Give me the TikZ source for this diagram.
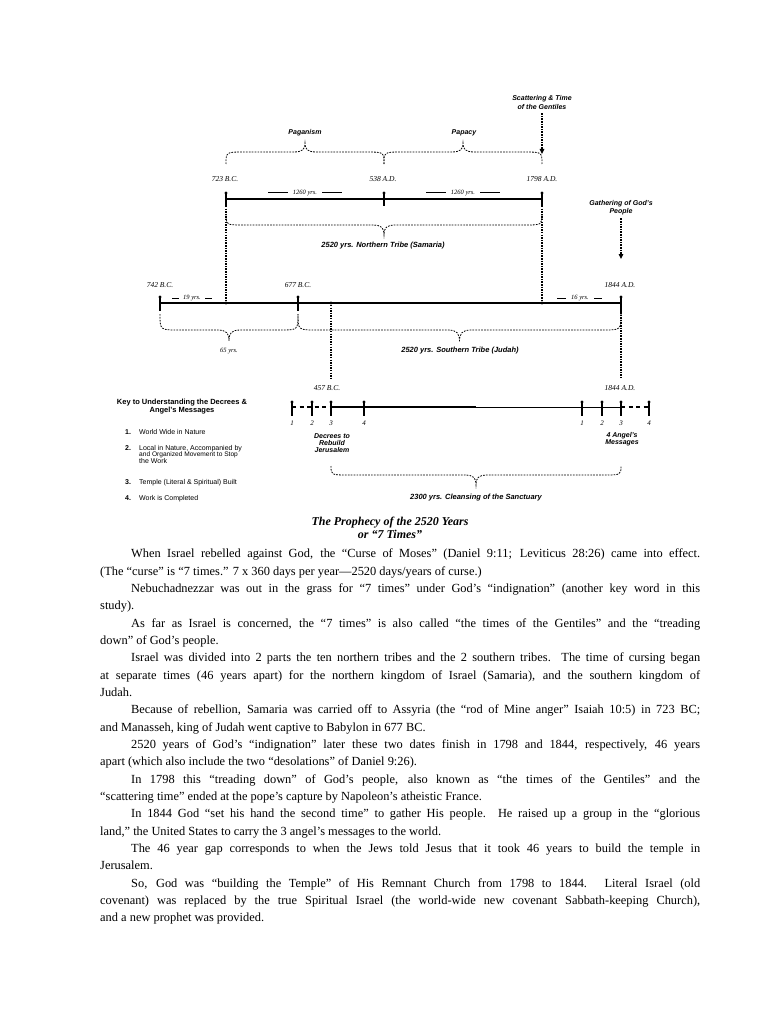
\documentclass[tikz,border=0pt]{standalone}
\usepackage{fontspec}
\setmainfont{Liberation Serif}
\setsansfont{Liberation Sans}
\usetikzlibrary{arrows.meta}
\newcommand\pinmark[4]{% name, x, ytop, ybottom
  \node[dotn] (#1) at (#2,#3) {};
  \coordinate (#1-b) at (#2,#4);
  \draw[stem] (#1.center) -- (#1-b);}
\newcommand\dbrace[6]{% name, x1, x2, yend, yflat, ycusp
  \coordinate (#1-l) at (#2,#4);
  \coordinate (#1-r) at (#3,#4);
  \coordinate (#1-m) at ({(#2+#3)/2},#6);
  \draw[brc] (#1-l) .. controls (#2,#5) .. ({#2+18},#5) -- ({(#2+#3)/2-12},#5)
    .. controls ({(#2+#3)/2-2},#5) and ({(#2+#3)/2},{#5+0.3*(#6-#5)}) .. (#1-m)
    .. controls ({(#2+#3)/2},{#5+0.3*(#6-#5)}) and ({(#2+#3)/2+2},#5) .. ({(#2+#3)/2+12},#5) -- ({#3-18},#5)
    .. controls (#3,#5) .. (#1-r);}
\begin{document}
\begin{tikzpicture}[x=1pt,y=-1pt,
  date/.style={font=\fontsize{7.5}{8}\selectfont\itshape, inner sep=0},
  yrs/.style={font=\fontsize{6.5}{7}\selectfont\itshape, inner sep=0},
  num/.style={font=\fontsize{7}{8}\selectfont\itshape, inner sep=0},
  lab/.style={font=\fontsize{7}{7.5}\selectfont\sffamily\bfseries\itshape, align=center, inner sep=0},
  blab/.style={font=\fontsize{7.5}{8}\selectfont\sffamily\bfseries\itshape, inner sep=0},
  keyhead/.style={font=\fontsize{7.5}{8.5}\selectfont\sffamily\bfseries, align=center, inner sep=0},
  keynum/.style={font=\fontsize{7}{8}\selectfont\sffamily\bfseries, inner sep=0, anchor=base west},
  keytxt/.style={font=\fontsize{7}{8}\selectfont\sffamily, inner sep=0, anchor=base west},
  brc/.style={dash pattern=on 1.7pt off 1.2pt, line width=0.8pt},
  vdot/.style={dash pattern=on 1.5pt off 1.1pt, line width=1.1pt},
  tline/.style={line width=1.2pt},
  tdash/.style={line width=1.2pt, dash pattern=on 4pt off 3.5pt},
  sdash/.style={line width=1pt},
  stem/.style={line width=1.5pt},
  dotn/.style={circle, fill, inner sep=0, minimum size=3.4pt},
  arr/.style={vdot, -{Triangle[length=5pt,width=4.5pt]}}
]
\useasboundingbox[fill=white] (0,0) rectangle (768,1024);

% ---------- top labels ----------
\node[lab, font=\fontsize{7}{9}\selectfont\sffamily\bfseries\itshape] (scat) at (542,103) {Scattering \& Time\\of the Gentiles};
\coordinate (scatend) at (542,154);
\draw[arr] (scat.south) ++(0,3) coordinate (scatstart) (scatstart) -- (scatend);
\node[lab] (pagan) at (305,133) {Paganism};
\node[lab] (papacy) at (464,133) {Papacy};
\dbrace{bpag}{226}{384}{164}{152}{143}
\dbrace{bpap}{384}{542}{164}{152}{143}

% ---------- timeline 1 ----------
\node[date] (d723) at (225,179) {723 B.C.};
\node[date] (d538) at (383,179) {538 A.D.};
\node[date] (d1798) at (542,179) {1798 A.D.};
\coordinate (L1a) at (226,199);
\coordinate (L1c) at (542,199);
\draw[tline] (L1a) -- (L1c);
\pinmark{p1a}{226}{193}{206}
\pinmark{p1b}{384}{193}{206}
\pinmark{p1c}{542}{193}{206}
\node[yrs] (y1260a) at (305,193) {1260 yrs.};
\node[yrs] (y1260b) at (463,193) {1260 yrs.};
\draw[sdash] (y1260a.west) ++(-5,0) coordinate (ya1) -- ++(-20,0);
\draw[sdash] (y1260a.east) ++(5,0) coordinate (ya2) -- ++(20,0);
\draw[sdash] (y1260b.west) ++(-5,0) coordinate (yb1) -- ++(-20,0);
\draw[sdash] (y1260b.east) ++(5,0) coordinate (yb2) -- ++(20,0);
\dbrace{bnorth}{226}{542}{214}{225}{235}
\node[blab] (north) at (383,246) {2520 yrs. Northern Tribe (Samaria)};

% gathering
\node[lab, font=\fontsize{7}{8}\selectfont\sffamily\bfseries\itshape] (gath) at (621,208) {Gathering of God's\\People};
\coordinate (gathend) at (621,259);
\draw[arr] (gath.south) ++(0,3) coordinate (gathstart) (gathstart) -- (gathend);

% ---------- timeline 2 ----------
\node[date] (d742) at (160,285) {742 B.C.};
\node[date] (d677) at (298,285) {677 B.C.};
\node[date] (d1844a) at (620,285) {1844 A.D.};
\coordinate (L2a) at (160,303);
\coordinate (L2b) at (621,303);
\draw[tline] (L2a) -- (L2b);
\pinmark{p2a}{160}{297}{311}
\pinmark{p2b}{298}{297}{311}
\pinmark{p2c}{621}{297}{312}
\node[dotn] (o2a) at (226,303) {};
\node[dotn] (o2b) at (331,303) {};
\node[dotn] (o2c) at (542,303) {};
\draw[vdot] (p1a-b) -- (o2a);
\draw[vdot] (p1c-b) -- (o2c);
\node[yrs] (y19) at (192,298) {19 yrs.};
\draw[sdash] (y19.west) ++(-4,0) coordinate (y19a) -- ++(-7,0);
\draw[sdash] (y19.east) ++(4,0) coordinate (y19b) -- ++(7,0);
\node[yrs] (y16) at (580,298) {16 yrs.};
\draw[sdash] (y16.west) ++(-5,0) coordinate (y16a) -- ++(-9,0);
\draw[sdash] (y16.east) ++(5,0) coordinate (y16b) -- ++(8,0);
\dbrace{b65}{160}{298}{314}{330}{341}
\node[yrs] (y65) at (229,351) {65 yrs.};
\dbrace{bjud}{298}{621}{314}{330}{342}
\node[blab] (judah) at (460,351) {2520 yrs. Southern Tribe (Judah)};

% ---------- timeline 3 ----------
\node[date] (d457) at (327,388) {457 B.C.};
\node[date] (d1844b) at (620,388) {1844 A.D.};
\pinmark{p3a}{292}{402}{416}
\pinmark{p3b}{312}{402}{416}
\pinmark{p3c}{331}{402}{416}
\pinmark{p3d}{364}{402}{416}
\pinmark{p3e}{582}{402}{416}
\pinmark{p3f}{602}{402}{416}
\pinmark{p3g}{621}{402}{416}
\pinmark{p3h}{649}{402}{416}
\coordinate (L3a) at (292,407);
\coordinate (L3c) at (331,407);
\coordinate (L3m) at (476,407);
\coordinate (L3g) at (621,407);
\coordinate (L3h) at (649,407);
\draw[tdash] (L3a) -- (L3c);
\draw[line width=1.4pt] (L3c) -- (L3m);
\draw[line width=1pt] (L3m) -- (L3g);
\draw[tdash] (L3g) -- (L3h);
\coordinate (v3c) at (331,378);
\coordinate (v3g) at (621,378);
\draw[vdot] (o2b) -- (v3c);
\draw[vdot] (p2c-b) -- (v3g);
\node[num] (n1a) at (292,423) {1};
\node[num] (n2a) at (312,423) {2};
\node[num] (n3a) at (331,423) {3};
\node[num] (n4a) at (364,423) {4};
\node[num] (n1b) at (582,423) {1};
\node[num] (n2b) at (602,423) {2};
\node[num] (n3b) at (621,423) {3};
\node[num] (n4b) at (649,423) {4};
\node[lab, font=\fontsize{7}{6.8}\selectfont\sffamily\bfseries\itshape] (decr) at (332,443) {Decrees to\\Rebuild\\Jerusalem};
\node[lab, font=\fontsize{7}{7}\selectfont\sffamily\bfseries\itshape] (angel) at (622,439.5) {4 Angel's\\Messages};
\dbrace{bsan}{331}{621}{466}{475}{485}
\node[blab] (sanct) at (476,498) {2300 yrs. Cleansing of the Sanctuary};

% ---------- key ----------
\node[keyhead] (keyh) at (182,406.5) {Key to Understanding the Decrees \&\\Angel's Messages};
\node[keynum] (k1n) at (125,434) {1.};
\node[keytxt] (k1) at (139,434) {World Wide in Nature};
\node[keynum] (k2n) at (125,450) {2.};
\node[keytxt] (k2a) at (139,450) {Local in Nature, Accompanied by};
\node[keytxt, font=\fontsize{6.6}{7}\selectfont\sffamily] (k2b) at (139,456.5) {and Organized Movement to Stop};
\node[keytxt] (k2c) at (139,463) {the Work};
\node[keynum] (k3n) at (125,484) {3.};
\node[keytxt] (k3) at (139,484) {Temple (Literal \& Spiritual) Built};
\node[keynum] (k4n) at (125,500) {4.};
\node[keytxt] (k4) at (139,500) {Work is Completed};

% ---------- title ----------
\node[font=\fontsize{12}{12.5}\selectfont\bfseries\itshape, align=center, inner sep=0] (title) at (390,528) {The Prophecy of the 2520 Years\\or “7 Times”};

% ---------- body ----------
\node[anchor=north west, inner sep=0, text width=600pt, align=justify,
      font=\fontsize{12.4}{17.33}\selectfont] (body) at (100,549) {%
\setlength{\parindent}{0pt}%
\hspace*{31pt}When Israel rebelled against God, the “Curse of Moses” (Daniel 9:11; Leviticus 28:26) came into effect.\linebreak (The “curse” is “7 times.” 7 x 360 days per year—2520 days/years of curse.)\par
\hspace*{31pt}Nebuchadnezzar was out in the grass for “7 times” under God’s “indignation” (another key word in this\linebreak study).\par
\hspace*{31pt}As far as Israel is concerned, the “7 times” is also called “the times of the Gentiles” and the “treading\linebreak down” of God’s people.\par
\hspace*{31pt}Israel was divided into 2 parts the ten northern tribes and the 2 southern tribes. The time of cursing began\linebreak at separate times (46 years apart) for the northern kingdom of Israel (Samaria), and the southern kingdom of\linebreak Judah.\par
\hspace*{31pt}Because of rebellion, Samaria was carried off to Assyria (the “rod of Mine anger” Isaiah 10:5) in 723 BC;\linebreak and Manasseh, king of Judah went captive to Babylon in 677 BC.\par
\hspace*{31pt}2520 years of God’s “indignation” later these two dates finish in 1798 and 1844, respectively, 46 years\linebreak apart (which also include the two “desolations” of Daniel 9:26).\par
\hspace*{31pt}In 1798 this “treading down” of God’s people, also known as “the times of the Gentiles” and the\linebreak “scattering time” ended at the pope’s capture by Napoleon’s atheistic France.\par
\hspace*{31pt}In 1844 God “set his hand the second time” to gather His people. He raised up a group in the “glorious\linebreak land,” the United States to carry the 3 angel’s messages to the world.\par
\hspace*{31pt}The 46 year gap corresponds to when the Jews told Jesus that it took 46 years to build the temple in\linebreak Jerusalem.\par
\hspace*{31pt}So, God was “building the Temple” of His Remnant Church from 1798 to 1844. Literal Israel (old\linebreak covenant) was replaced by the true Spiritual Israel (the world-wide new covenant Sabbath-keeping Church),\linebreak and a new prophet was provided.};
\end{tikzpicture}
\end{document}
